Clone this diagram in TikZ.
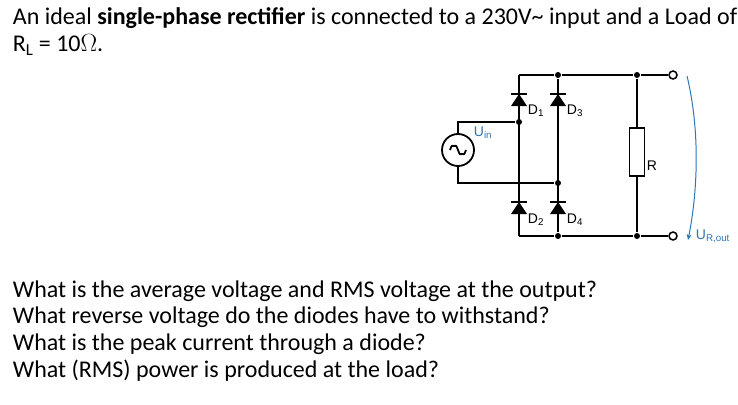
\documentclass[tikz,border=0pt]{standalone}
\usepackage{fontspec}
\setmainfont{Carlito}
\newfontfamily\cfont{Liberation Sans}
\usetikzlibrary{arrows.meta}
\definecolor{ublue}{RGB}{46,117,182}
\begin{document}
\begin{tikzpicture}[x=1pt,y=-1pt,line width=1.8pt,
  dot/.style={circle,fill,inner sep=0pt,minimum size=6pt},
  term/.style={circle,draw,fill=white,inner sep=0pt,minimum size=8pt,line width=1.5pt},
  txt/.style={anchor=west,inner sep=0pt,font=\fontsize{24}{28}\selectfont},
  lab/.style={font=\cfont\fontsize{14}{16}\selectfont,inner sep=0pt,anchor=north west}]
\useasboundingbox (0,0) rectangle (738,404);
\node[txt] (t1) at (12,18) {An ideal \textbf{single-phase rectifier} is connected to a 230V\char`~\ input and a Load of};
\node[txt] (t2) at (12,45) {R\textsubscript{L} = 10$\Omega$.};
\node[txt] (q1) at (12,291) {What is the average voltage and RMS voltage at the output?};
\node[txt] (q2) at (12,317) {What reverse voltage do the diodes have to withstand?};
\node[txt] (q3) at (12,344) {What is the peak current through a diode?};
\node[txt] (q4) at (12,371) {What (RMS) power is produced at the load?};
% nodes
\coordinate (tl) at (519,75); \node[dot] (tm) at (558,75) {}; \node[dot] (tr) at (637,75) {}; \node[term] (to) at (673,75) {};
\coordinate (bl) at (519,236); \node[dot] (bm) at (558,236) {}; \node[dot] (br) at (637,236) {}; \node[term] (bo) at (673,236) {};
\node[dot] (a) at (519,122) {}; \node[dot] (b) at (558,183) {};
\node[circle,draw,minimum size=32pt,inner sep=0pt] (src) at (458,150) {};
\draw (src.center)++(-8,0) .. controls +(2,-6) and +(-1.5,0) .. +(4,-4) .. controls +(1.5,0) and +(-2,-6) .. +(8,0)
   .. controls +(2,6) and +(-1.5,0) .. +(12,4) .. controls +(1.5,0) and +(-2,6) .. +(16,0);
\draw (src.north) |- (a); \draw (src.south) |- (b);
\draw (tl) -- (bl); \draw (tm) -- (bm);
\draw (tl) -- (tm) -- (tr) -- (to); \draw (bl) -- (bm) -- (br) -- (bo);
\node[draw,fill=white,minimum width=15pt,minimum height=48pt,inner sep=0pt] (R) at (637,152) {};
\draw (tr) -- (R.north); \draw (R.south) -- (br);
% diodes (pointing up)
\foreach \x/\y in {519/99,558/99,519/207,558/207}{
  \fill (\x-8,\y+7) -- (\x+8,\y+7) -- (\x,\y-5) -- cycle;
  \draw (\x-8,\y-5) -- (\x+8,\y-5);
}
\node[lab] (d1) at (527,104) {D\textsubscript{1}};
\node[lab] (d3) at (566,104) {D\textsubscript{3}};
\node[lab] (d2) at (527,213) {D\textsubscript{2}};
\node[lab] (d4) at (566,213) {D\textsubscript{4}};
\node[lab] (rl) at (646,160) {R};
\node[lab,text=ublue] (uin) at (473,126) {U\textsubscript{in}};
\node[lab,text=ublue,anchor=west] (uo) at (695,236) {U\textsubscript{R,out}};
\coordinate (s) at (687,76); \coordinate (e) at (688,240);
\draw[ublue,line width=1pt,-{Stealth[length=6pt,width=5pt]}] (s) .. controls (700,130) and (698,190) .. (e);
\end{tikzpicture}
\end{document}
